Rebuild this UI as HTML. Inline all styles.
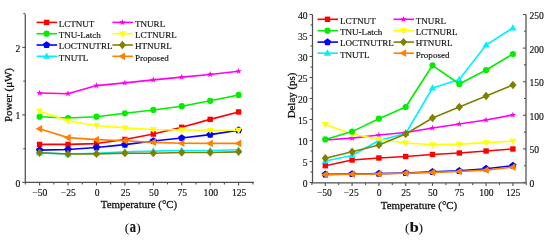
<!DOCTYPE html>
<html><head><meta charset="utf-8"><style>
html,body{margin:0;padding:0;background:#fff;}
svg{display:block;font-family:"Liberation Serif",serif;fill:#111;}
text{stroke:#111;stroke-width:0.15px;}
.cap{stroke-width:0.2px;}
.par{stroke-width:0.05px;}
.lab{stroke-width:0.28px;}
</style></head><body>
<svg width="550" height="241" viewBox="0 0 550 241">
<rect width="550" height="241" fill="#fff"/>
<path d="M25.3 14.2V182.4H254" fill="none" stroke="#505050" stroke-width="1.25"/>
<path d="M39.60 182.4v3.0" stroke="#505050" stroke-width="1.1"/>
<text x="39.80" y="196.40" font-size="9.6" text-anchor="middle">−50</text>
<path d="M68.03 182.4v3.0" stroke="#505050" stroke-width="1.1"/>
<text x="68.23" y="196.40" font-size="9.6" text-anchor="middle">−25</text>
<path d="M96.46 182.4v3.0" stroke="#505050" stroke-width="1.1"/>
<text x="97.06" y="196.40" font-size="9.6" text-anchor="middle">0</text>
<path d="M124.89 182.4v3.0" stroke="#505050" stroke-width="1.1"/>
<text x="125.49" y="196.40" font-size="9.6" text-anchor="middle">25</text>
<path d="M153.32 182.4v3.0" stroke="#505050" stroke-width="1.1"/>
<text x="153.92" y="196.40" font-size="9.6" text-anchor="middle">50</text>
<path d="M181.75 182.4v3.0" stroke="#505050" stroke-width="1.1"/>
<text x="182.35" y="196.40" font-size="9.6" text-anchor="middle">75</text>
<path d="M210.18 182.4v3.0" stroke="#505050" stroke-width="1.1"/>
<text x="210.78" y="196.40" font-size="9.6" text-anchor="middle">100</text>
<path d="M238.61 182.4v3.0" stroke="#505050" stroke-width="1.1"/>
<text x="239.21" y="196.40" font-size="9.6" text-anchor="middle">125</text>
<path d="M25.39 182.4v2.0" stroke="#505050" stroke-width="1.1"/>
<path d="M53.81 182.4v2.0" stroke="#505050" stroke-width="1.1"/>
<path d="M82.25 182.4v2.0" stroke="#505050" stroke-width="1.1"/>
<path d="M110.68 182.4v2.0" stroke="#505050" stroke-width="1.1"/>
<path d="M139.10 182.4v2.0" stroke="#505050" stroke-width="1.1"/>
<path d="M167.53 182.4v2.0" stroke="#505050" stroke-width="1.1"/>
<path d="M195.97 182.4v2.0" stroke="#505050" stroke-width="1.1"/>
<path d="M224.39 182.4v2.0" stroke="#505050" stroke-width="1.1"/>
<path d="M252.82 182.4v2.0" stroke="#505050" stroke-width="1.1"/>
<path d="M25.3 182.40h-3.0" stroke="#505050" stroke-width="1.1"/>
<text x="20.30" y="186.80" font-size="9.6" text-anchor="end">0</text>
<path d="M25.3 148.65h-2.0" stroke="#505050" stroke-width="1.1"/>
<path d="M25.3 114.90h-3.0" stroke="#505050" stroke-width="1.1"/>
<text x="20.30" y="119.30" font-size="9.6" text-anchor="end">1</text>
<path d="M25.3 81.15h-2.0" stroke="#505050" stroke-width="1.1"/>
<path d="M25.3 47.40h-3.0" stroke="#505050" stroke-width="1.1"/>
<text x="20.30" y="51.80" font-size="9.6" text-anchor="end">2</text>
<path d="M25.3 13.65h-2.0" stroke="#505050" stroke-width="1.1"/>
<polyline points="39.60,144.39 68.03,144.39 96.46,143.58 124.89,139.46 153.32,134.05 181.75,127.29 210.18,119.38 238.61,111.95" fill="none" stroke="#ff0000" stroke-width="1.6" stroke-linejoin="round"/>
<rect x="36.90" y="141.69" width="5.40" height="5.40" fill="#ff0000"/>
<rect x="65.33" y="141.69" width="5.40" height="5.40" fill="#ff0000"/>
<rect x="93.76" y="140.88" width="5.40" height="5.40" fill="#ff0000"/>
<rect x="122.19" y="136.76" width="5.40" height="5.40" fill="#ff0000"/>
<rect x="150.62" y="131.35" width="5.40" height="5.40" fill="#ff0000"/>
<rect x="179.05" y="124.59" width="5.40" height="5.40" fill="#ff0000"/>
<rect x="207.48" y="116.68" width="5.40" height="5.40" fill="#ff0000"/>
<rect x="235.91" y="109.25" width="5.40" height="5.40" fill="#ff0000"/>
<polyline points="39.60,116.68 68.03,118.03 96.46,116.68 124.89,113.30 153.32,109.92 181.75,106.20 210.18,100.79 238.61,94.91" fill="none" stroke="#00ee00" stroke-width="1.6" stroke-linejoin="round"/>
<circle cx="39.60" cy="116.68" r="3.10" fill="#00ee00"/>
<circle cx="68.03" cy="118.03" r="3.10" fill="#00ee00"/>
<circle cx="96.46" cy="116.68" r="3.10" fill="#00ee00"/>
<circle cx="124.89" cy="113.30" r="3.10" fill="#00ee00"/>
<circle cx="153.32" cy="109.92" r="3.10" fill="#00ee00"/>
<circle cx="181.75" cy="106.20" r="3.10" fill="#00ee00"/>
<circle cx="210.18" cy="100.79" r="3.10" fill="#00ee00"/>
<circle cx="238.61" cy="94.91" r="3.10" fill="#00ee00"/>
<polyline points="39.60,150.14 68.03,149.46 96.46,147.44 124.89,144.66 153.32,141.01 181.75,137.97 210.18,134.59 238.61,130.20" fill="none" stroke="#0000ff" stroke-width="1.6" stroke-linejoin="round"/>
<polygon points="39.60,146.31 43.25,148.96 41.85,153.24 37.35,153.24 35.95,148.96" fill="#0000ff"/>
<polygon points="68.03,145.63 71.68,148.28 70.28,152.57 65.78,152.57 64.38,148.28" fill="#0000ff"/>
<polygon points="96.46,143.60 100.11,146.25 98.71,150.54 94.21,150.54 92.81,146.25" fill="#0000ff"/>
<polygon points="124.89,140.83 128.54,143.48 127.14,147.77 122.64,147.77 121.24,143.48" fill="#0000ff"/>
<polygon points="153.32,137.18 156.97,139.83 155.57,144.12 151.07,144.12 149.67,139.83" fill="#0000ff"/>
<polygon points="181.75,134.14 185.40,136.79 184.00,141.07 179.50,141.07 178.10,136.79" fill="#0000ff"/>
<polygon points="210.18,130.76 213.83,133.41 212.43,137.69 207.93,137.69 206.53,133.41" fill="#0000ff"/>
<polygon points="238.61,126.36 242.26,129.01 240.86,133.30 236.36,133.30 234.96,129.01" fill="#0000ff"/>
<polyline points="39.60,152.84 68.03,153.99 96.46,153.18 124.89,151.83 153.32,151.15 181.75,150.48 210.18,150.48 238.61,149.80" fill="none" stroke="#00f0ff" stroke-width="1.6" stroke-linejoin="round"/>
<polygon points="39.60,149.01 43.24,155.34 35.96,155.34" fill="#00f0ff"/>
<polygon points="68.03,150.16 71.67,156.49 64.39,156.49" fill="#00f0ff"/>
<polygon points="96.46,149.35 100.10,155.67 92.82,155.67" fill="#00f0ff"/>
<polygon points="124.89,148.00 128.53,154.32 121.25,154.32" fill="#00f0ff"/>
<polygon points="153.32,147.32 156.96,153.65 149.68,153.65" fill="#00f0ff"/>
<polygon points="181.75,146.64 185.39,152.97 178.11,152.97" fill="#00f0ff"/>
<polygon points="210.18,146.64 213.82,152.97 206.54,152.97" fill="#00f0ff"/>
<polygon points="238.61,145.97 242.25,152.29 234.97,152.29" fill="#00f0ff"/>
<polyline points="39.60,93.02 68.03,93.69 96.46,85.58 124.89,82.88 153.32,79.84 181.75,77.13 210.18,74.43 238.61,71.25" fill="none" stroke="#ff00f0" stroke-width="1.6" stroke-linejoin="round"/>
<polygon points="39.60,89.64 40.39,91.93 42.81,91.98 40.88,93.44 41.58,95.75 39.60,94.37 37.62,95.75 38.32,93.44 36.39,91.98 38.81,91.93" fill="#ff00f0"/>
<polygon points="68.03,90.32 68.82,92.60 71.24,92.65 69.31,94.11 70.01,96.42 68.03,95.04 66.05,96.42 66.75,94.11 64.82,92.65 67.24,92.60" fill="#ff00f0"/>
<polygon points="96.46,82.21 97.25,84.49 99.67,84.54 97.74,86.00 98.44,88.31 96.46,86.93 94.48,88.31 95.18,86.00 93.25,84.54 95.67,84.49" fill="#ff00f0"/>
<polygon points="124.89,79.50 125.68,81.79 128.10,81.84 126.17,83.30 126.87,85.61 124.89,84.23 122.91,85.61 123.61,83.30 121.68,81.84 124.10,81.79" fill="#ff00f0"/>
<polygon points="153.32,76.46 154.11,78.74 156.53,78.79 154.60,80.25 155.30,82.57 153.32,81.19 151.34,82.57 152.04,80.25 150.11,78.79 152.53,78.74" fill="#ff00f0"/>
<polygon points="181.75,73.76 182.54,76.04 184.96,76.09 183.03,77.55 183.73,79.86 181.75,78.48 179.77,79.86 180.47,77.55 178.54,76.09 180.96,76.04" fill="#ff00f0"/>
<polygon points="210.18,71.05 210.97,73.34 213.39,73.39 211.46,74.85 212.16,77.16 210.18,75.78 208.20,77.16 208.90,74.85 206.97,73.39 209.39,73.34" fill="#ff00f0"/>
<polygon points="238.61,67.88 239.40,70.16 241.82,70.21 239.89,71.67 240.59,73.98 238.61,72.60 236.63,73.98 237.33,71.67 235.40,70.21 237.82,70.16" fill="#ff00f0"/>
<polyline points="39.60,110.93 68.03,121.07 96.46,125.47 124.89,127.83 153.32,129.52 181.75,129.86 210.18,130.20 238.61,130.20" fill="none" stroke="#ffff00" stroke-width="1.6" stroke-linejoin="round"/>
<polygon points="39.60,114.71 43.19,108.48 36.01,108.48" fill="#ffff00"/>
<polygon points="68.03,124.85 71.62,118.62 64.44,118.62" fill="#ffff00"/>
<polygon points="96.46,129.25 100.05,123.01 92.87,123.01" fill="#ffff00"/>
<polygon points="124.89,131.61 128.48,125.38 121.30,125.38" fill="#ffff00"/>
<polygon points="153.32,133.30 156.91,127.06 149.73,127.06" fill="#ffff00"/>
<polygon points="181.75,133.64 185.34,127.40 178.16,127.40" fill="#ffff00"/>
<polygon points="210.18,133.98 213.77,127.74 206.59,127.74" fill="#ffff00"/>
<polygon points="238.61,133.98 242.20,127.74 235.02,127.74" fill="#ffff00"/>
<polyline points="39.60,152.71 68.03,153.99 96.46,153.86 124.89,153.18 153.32,153.18 181.75,152.51 210.18,152.51 238.61,151.83" fill="none" stroke="#808000" stroke-width="1.6" stroke-linejoin="round"/>
<polygon points="39.60,148.52 43.25,152.71 39.60,156.89 35.95,152.71" fill="#808000"/>
<polygon points="68.03,149.81 71.67,153.99 68.03,158.18 64.39,153.99" fill="#808000"/>
<polygon points="96.46,149.67 100.11,153.86 96.46,158.04 92.82,153.86" fill="#808000"/>
<polygon points="124.89,149.00 128.53,153.18 124.89,157.37 121.24,153.18" fill="#808000"/>
<polygon points="153.32,149.00 156.97,153.18 153.32,157.37 149.67,153.18" fill="#808000"/>
<polygon points="181.75,148.32 185.40,152.51 181.75,156.69 178.10,152.51" fill="#808000"/>
<polygon points="210.18,148.32 213.82,152.51 210.18,156.69 206.53,152.51" fill="#808000"/>
<polygon points="238.61,147.65 242.25,151.83 238.61,156.02 234.96,151.83" fill="#808000"/>
<polyline points="39.60,128.85 68.03,137.63 96.46,139.66 124.89,140.68 153.32,142.37 181.75,143.24 210.18,143.38 238.61,143.38" fill="none" stroke="#ff8000" stroke-width="1.6" stroke-linejoin="round"/>
<polygon points="35.55,128.85 42.23,125.00 42.23,132.69" fill="#ff8000"/>
<polygon points="63.98,137.63 70.66,133.79 70.66,141.48" fill="#ff8000"/>
<polygon points="92.41,139.66 99.09,135.81 99.09,143.51" fill="#ff8000"/>
<polygon points="120.84,140.68 127.52,136.83 127.52,144.52" fill="#ff8000"/>
<polygon points="149.27,142.37 155.95,138.52 155.95,146.21" fill="#ff8000"/>
<polygon points="177.70,143.24 184.38,139.40 184.38,147.09" fill="#ff8000"/>
<polygon points="206.13,143.38 212.81,139.53 212.81,147.23" fill="#ff8000"/>
<polygon points="234.56,143.38 241.24,139.53 241.24,147.23" fill="#ff8000"/>
<text transform="translate(12 95) rotate(-90)" font-size="10.9" text-anchor="middle" class="lab">Power (μW)</text>
<text x="139.0" y="208.1" font-size="10.9" text-anchor="middle" class="lab">Temperature (°C)</text>
<path d="M36.6 22.4h20.5" stroke="#ff0000" stroke-width="1.6"/>
<rect x="43.90" y="19.70" width="5.40" height="5.40" fill="#ff0000"/>
<text x="58.7" y="26.70" font-size="9.05">LCTNUT</text>
<path d="M36.6 33.7h20.5" stroke="#00ee00" stroke-width="1.6"/>
<circle cx="46.60" cy="33.70" r="3.10" fill="#00ee00"/>
<text x="58.7" y="38.00" font-size="9.05">TNU-Latch</text>
<path d="M36.6 45.0h20.5" stroke="#0000ff" stroke-width="1.6"/>
<polygon points="46.60,41.17 50.25,43.82 48.85,48.10 44.35,48.10 42.95,43.82" fill="#0000ff"/>
<text x="58.7" y="49.30" font-size="9.05">LOCTNUTRL</text>
<path d="M36.6 56.3h20.5" stroke="#00f0ff" stroke-width="1.6"/>
<polygon points="46.60,52.47 50.24,58.79 42.96,58.79" fill="#00f0ff"/>
<text x="58.7" y="60.60" font-size="9.05">TNUTL</text>
<path d="M112.4 22.4h20.5" stroke="#ff00f0" stroke-width="1.6"/>
<polygon points="122.40,19.02 123.19,21.31 125.61,21.36 123.68,22.82 124.38,25.13 122.40,23.75 120.42,25.13 121.12,22.82 119.19,21.36 121.61,21.31" fill="#ff00f0"/>
<text x="135.0" y="26.70" font-size="9.05">TNURL</text>
<path d="M112.4 33.7h20.5" stroke="#ffff00" stroke-width="1.6"/>
<polygon points="122.40,37.48 125.99,31.24 118.81,31.24" fill="#ffff00"/>
<text x="135.0" y="38.00" font-size="9.05">LCTNURL</text>
<path d="M112.4 45.0h20.5" stroke="#808000" stroke-width="1.6"/>
<polygon points="122.40,40.81 126.05,45.00 122.40,49.19 118.76,45.00" fill="#808000"/>
<text x="135.0" y="49.30" font-size="9.05">HTNURL</text>
<path d="M112.4 56.3h20.5" stroke="#ff8000" stroke-width="1.6"/>
<polygon points="118.35,56.30 125.03,52.45 125.03,60.15" fill="#ff8000"/>
<text x="135.0" y="60.60" font-size="9.05">Proposed</text>
<text x="129.30" y="232.3" font-size="13.5" text-anchor="end" class="par">(</text>
<text transform="translate(132.80 232.3) scale(0.92 1.17)" font-size="13.5" font-weight="bold" text-anchor="middle" class="cap">a</text>
<text x="136.30" y="232.3" font-size="13.5" class="par">)</text>
<path d="M312.5 14.5V182.9H526" fill="none" stroke="#505050" stroke-width="1.25"/>
<path d="M325.30 182.9v3.0" stroke="#505050" stroke-width="1.1"/>
<text x="324.40" y="196.40" font-size="9.6" text-anchor="middle">−50</text>
<path d="M352.10 182.9v3.0" stroke="#505050" stroke-width="1.1"/>
<text x="351.20" y="196.40" font-size="9.6" text-anchor="middle">−25</text>
<path d="M378.90 182.9v3.0" stroke="#505050" stroke-width="1.1"/>
<text x="379.20" y="196.40" font-size="9.6" text-anchor="middle">0</text>
<path d="M405.70 182.9v3.0" stroke="#505050" stroke-width="1.1"/>
<text x="406.00" y="196.40" font-size="9.6" text-anchor="middle">25</text>
<path d="M432.50 182.9v3.0" stroke="#505050" stroke-width="1.1"/>
<text x="432.80" y="196.40" font-size="9.6" text-anchor="middle">50</text>
<path d="M459.30 182.9v3.0" stroke="#505050" stroke-width="1.1"/>
<text x="459.60" y="196.40" font-size="9.6" text-anchor="middle">75</text>
<path d="M486.10 182.9v3.0" stroke="#505050" stroke-width="1.1"/>
<text x="486.40" y="196.40" font-size="9.6" text-anchor="middle">100</text>
<path d="M512.90 182.9v3.0" stroke="#505050" stroke-width="1.1"/>
<text x="513.20" y="196.40" font-size="9.6" text-anchor="middle">125</text>
<path d="M311.90 182.9v2.0" stroke="#505050" stroke-width="1.1"/>
<path d="M338.70 182.9v2.0" stroke="#505050" stroke-width="1.1"/>
<path d="M365.50 182.9v2.0" stroke="#505050" stroke-width="1.1"/>
<path d="M392.30 182.9v2.0" stroke="#505050" stroke-width="1.1"/>
<path d="M419.10 182.9v2.0" stroke="#505050" stroke-width="1.1"/>
<path d="M445.90 182.9v2.0" stroke="#505050" stroke-width="1.1"/>
<path d="M472.70 182.9v2.0" stroke="#505050" stroke-width="1.1"/>
<path d="M499.50 182.9v2.0" stroke="#505050" stroke-width="1.1"/>
<path d="M526.30 182.9v2.0" stroke="#505050" stroke-width="1.1"/>
<path d="M312.5 182.50h-3.0" stroke="#505050" stroke-width="1.1"/>
<text x="307.50" y="186.90" font-size="9.6" text-anchor="end">0</text>
<path d="M312.5 172.00h-2.0" stroke="#505050" stroke-width="1.1"/>
<path d="M312.5 161.50h-3.0" stroke="#505050" stroke-width="1.1"/>
<text x="307.50" y="165.90" font-size="9.6" text-anchor="end">5</text>
<path d="M312.5 151.00h-2.0" stroke="#505050" stroke-width="1.1"/>
<path d="M312.5 140.50h-3.0" stroke="#505050" stroke-width="1.1"/>
<text x="307.50" y="144.90" font-size="9.6" text-anchor="end">10</text>
<path d="M312.5 130.00h-2.0" stroke="#505050" stroke-width="1.1"/>
<path d="M312.5 119.50h-3.0" stroke="#505050" stroke-width="1.1"/>
<text x="307.50" y="123.90" font-size="9.6" text-anchor="end">15</text>
<path d="M312.5 109.00h-2.0" stroke="#505050" stroke-width="1.1"/>
<path d="M312.5 98.50h-3.0" stroke="#505050" stroke-width="1.1"/>
<text x="307.50" y="102.90" font-size="9.6" text-anchor="end">20</text>
<path d="M312.5 88.00h-2.0" stroke="#505050" stroke-width="1.1"/>
<path d="M312.5 77.50h-3.0" stroke="#505050" stroke-width="1.1"/>
<text x="307.50" y="81.90" font-size="9.6" text-anchor="end">25</text>
<path d="M312.5 67.00h-2.0" stroke="#505050" stroke-width="1.1"/>
<path d="M312.5 56.50h-3.0" stroke="#505050" stroke-width="1.1"/>
<text x="307.50" y="60.90" font-size="9.6" text-anchor="end">30</text>
<path d="M312.5 46.00h-2.0" stroke="#505050" stroke-width="1.1"/>
<path d="M312.5 35.50h-3.0" stroke="#505050" stroke-width="1.1"/>
<text x="307.50" y="39.90" font-size="9.6" text-anchor="end">35</text>
<path d="M312.5 25.00h-2.0" stroke="#505050" stroke-width="1.1"/>
<path d="M312.5 14.50h-3.0" stroke="#505050" stroke-width="1.1"/>
<text x="307.50" y="18.90" font-size="9.6" text-anchor="end">40</text>
<path d="M526 14.5V182.9" fill="none" stroke="#555" stroke-width="1.3"/>
<path d="M526 182.50h-3.0" stroke="#555" stroke-width="1.1"/>
<text x="529.5" y="186.90" font-size="9.6">0</text>
<path d="M526 165.70h-2.0" stroke="#555" stroke-width="1.1"/>
<path d="M526 148.90h-3.0" stroke="#555" stroke-width="1.1"/>
<text x="529.5" y="153.30" font-size="9.6">50</text>
<path d="M526 132.10h-2.0" stroke="#555" stroke-width="1.1"/>
<path d="M526 115.30h-3.0" stroke="#555" stroke-width="1.1"/>
<text x="529.5" y="119.70" font-size="9.6">100</text>
<path d="M526 98.50h-2.0" stroke="#555" stroke-width="1.1"/>
<path d="M526 81.70h-3.0" stroke="#555" stroke-width="1.1"/>
<text x="529.5" y="86.10" font-size="9.6">150</text>
<path d="M526 64.90h-2.0" stroke="#555" stroke-width="1.1"/>
<path d="M526 48.10h-3.0" stroke="#555" stroke-width="1.1"/>
<text x="529.5" y="52.50" font-size="9.6">200</text>
<path d="M526 31.30h-2.0" stroke="#555" stroke-width="1.1"/>
<path d="M526 14.50h-3.0" stroke="#555" stroke-width="1.1"/>
<text x="529.5" y="18.90" font-size="9.6">250</text>
<polyline points="325.30,165.70 352.10,160.00 378.90,158.00 405.70,156.50 432.50,154.50 459.30,153.00 486.10,151.00 512.90,149.00" fill="none" stroke="#ff0000" stroke-width="1.6" stroke-linejoin="round"/>
<rect x="322.60" y="163.00" width="5.40" height="5.40" fill="#ff0000"/>
<rect x="349.40" y="157.30" width="5.40" height="5.40" fill="#ff0000"/>
<rect x="376.20" y="155.30" width="5.40" height="5.40" fill="#ff0000"/>
<rect x="403.00" y="153.80" width="5.40" height="5.40" fill="#ff0000"/>
<rect x="429.80" y="151.80" width="5.40" height="5.40" fill="#ff0000"/>
<rect x="456.60" y="150.30" width="5.40" height="5.40" fill="#ff0000"/>
<rect x="483.40" y="148.30" width="5.40" height="5.40" fill="#ff0000"/>
<rect x="510.20" y="146.30" width="5.40" height="5.40" fill="#ff0000"/>
<polyline points="325.30,174.40 352.10,174.00 378.90,173.60 405.70,173.00 432.50,171.90 459.30,170.90 486.10,168.70 512.90,165.60" fill="none" stroke="#0000ff" stroke-width="1.6" stroke-linejoin="round"/>
<polygon points="325.30,170.57 328.95,173.22 327.55,177.50 323.05,177.50 321.65,173.22" fill="#0000ff"/>
<polygon points="352.10,170.17 355.75,172.82 354.35,177.10 349.85,177.10 348.45,172.82" fill="#0000ff"/>
<polygon points="378.90,169.77 382.55,172.42 381.15,176.70 376.65,176.70 375.25,172.42" fill="#0000ff"/>
<polygon points="405.70,169.17 409.35,171.82 407.95,176.10 403.45,176.10 402.05,171.82" fill="#0000ff"/>
<polygon points="432.50,168.07 436.15,170.72 434.75,175.00 430.25,175.00 428.85,170.72" fill="#0000ff"/>
<polygon points="459.30,167.07 462.95,169.72 461.55,174.00 457.05,174.00 455.65,169.72" fill="#0000ff"/>
<polygon points="486.10,164.87 489.75,167.52 488.35,171.80 483.85,171.80 482.45,167.52" fill="#0000ff"/>
<polygon points="512.90,161.77 516.55,164.42 515.15,168.70 510.65,168.70 509.25,164.42" fill="#0000ff"/>
<polyline points="325.30,161.00 352.10,155.50 378.90,140.50 405.70,133.50 432.50,88.00 459.30,79.50 486.10,45.00 512.90,28.00" fill="none" stroke="#00f0ff" stroke-width="1.6" stroke-linejoin="round"/>
<polygon points="325.30,157.17 328.94,163.49 321.66,163.49" fill="#00f0ff"/>
<polygon points="352.10,151.67 355.74,157.99 348.46,157.99" fill="#00f0ff"/>
<polygon points="378.90,136.67 382.54,142.99 375.26,142.99" fill="#00f0ff"/>
<polygon points="405.70,129.67 409.34,135.99 402.06,135.99" fill="#00f0ff"/>
<polygon points="432.50,84.17 436.14,90.49 428.86,90.49" fill="#00f0ff"/>
<polygon points="459.30,75.67 462.94,81.99 455.66,81.99" fill="#00f0ff"/>
<polygon points="486.10,41.17 489.74,47.49 482.46,47.49" fill="#00f0ff"/>
<polygon points="512.90,24.17 516.54,30.49 509.26,30.49" fill="#00f0ff"/>
<polyline points="325.30,140.00 352.10,138.10 378.90,135.00 405.70,132.50 432.50,128.00 459.30,124.00 486.10,120.00 512.90,115.00" fill="none" stroke="#ff00f0" stroke-width="1.6" stroke-linejoin="round"/>
<polygon points="325.30,136.62 326.09,138.91 328.51,138.96 326.58,140.42 327.28,142.73 325.30,141.35 323.32,142.73 324.02,140.42 322.09,138.96 324.51,138.91" fill="#ff00f0"/>
<polygon points="352.10,134.72 352.89,137.01 355.31,137.06 353.38,138.52 354.08,140.83 352.10,139.45 350.12,140.83 350.82,138.52 348.89,137.06 351.31,137.01" fill="#ff00f0"/>
<polygon points="378.90,131.62 379.69,133.91 382.11,133.96 380.18,135.42 380.88,137.73 378.90,136.35 376.92,137.73 377.62,135.42 375.69,133.96 378.11,133.91" fill="#ff00f0"/>
<polygon points="405.70,129.12 406.49,131.41 408.91,131.46 406.98,132.92 407.68,135.23 405.70,133.85 403.72,135.23 404.42,132.92 402.49,131.46 404.91,131.41" fill="#ff00f0"/>
<polygon points="432.50,124.62 433.29,126.91 435.71,126.96 433.78,128.42 434.48,130.73 432.50,129.35 430.52,130.73 431.22,128.42 429.29,126.96 431.71,126.91" fill="#ff00f0"/>
<polygon points="459.30,120.62 460.09,122.91 462.51,122.96 460.58,124.42 461.28,126.73 459.30,125.35 457.32,126.73 458.02,124.42 456.09,122.96 458.51,122.91" fill="#ff00f0"/>
<polygon points="486.10,116.62 486.89,118.91 489.31,118.96 487.38,120.42 488.08,122.73 486.10,121.35 484.12,122.73 484.82,120.42 482.89,118.96 485.31,118.91" fill="#ff00f0"/>
<polygon points="512.90,111.62 513.69,113.91 516.11,113.96 514.18,115.42 514.88,117.73 512.90,116.35 510.92,117.73 511.62,115.42 509.69,113.96 512.11,113.91" fill="#ff00f0"/>
<polyline points="325.30,124.40 352.10,134.00 378.90,139.30 405.70,143.00 432.50,144.60 459.30,144.10 486.10,142.60 512.90,141.20" fill="none" stroke="#ffff00" stroke-width="1.6" stroke-linejoin="round"/>
<polygon points="325.30,128.18 328.89,121.94 321.71,121.94" fill="#ffff00"/>
<polygon points="352.10,137.78 355.69,131.54 348.51,131.54" fill="#ffff00"/>
<polygon points="378.90,143.08 382.49,136.84 375.31,136.84" fill="#ffff00"/>
<polygon points="405.70,146.78 409.29,140.54 402.11,140.54" fill="#ffff00"/>
<polygon points="432.50,148.38 436.09,142.14 428.91,142.14" fill="#ffff00"/>
<polygon points="459.30,147.88 462.89,141.64 455.71,141.64" fill="#ffff00"/>
<polygon points="486.10,146.38 489.69,140.14 482.51,140.14" fill="#ffff00"/>
<polygon points="512.90,144.98 516.49,138.74 509.31,138.74" fill="#ffff00"/>
<polyline points="325.30,158.20 352.10,151.70 378.90,145.00 405.70,134.00 432.50,118.00 459.30,107.00 486.10,96.00 512.90,85.00" fill="none" stroke="#808000" stroke-width="1.6" stroke-linejoin="round"/>
<polygon points="325.30,154.01 328.94,158.20 325.30,162.38 321.66,158.20" fill="#808000"/>
<polygon points="352.10,147.51 355.75,151.70 352.10,155.88 348.46,151.70" fill="#808000"/>
<polygon points="378.90,140.81 382.55,145.00 378.90,149.19 375.26,145.00" fill="#808000"/>
<polygon points="405.70,129.81 409.35,134.00 405.70,138.19 402.06,134.00" fill="#808000"/>
<polygon points="432.50,113.81 436.14,118.00 432.50,122.19 428.86,118.00" fill="#808000"/>
<polygon points="459.30,102.81 462.94,107.00 459.30,111.19 455.66,107.00" fill="#808000"/>
<polygon points="486.10,91.81 489.75,96.00 486.10,100.19 482.46,96.00" fill="#808000"/>
<polygon points="512.90,80.81 516.54,85.00 512.90,89.19 509.25,85.00" fill="#808000"/>
<polyline points="325.30,174.60 352.10,174.20 378.90,173.90 405.70,173.20 432.50,172.40 459.30,171.50 486.10,170.10 512.90,167.20" fill="none" stroke="#ff8000" stroke-width="1.6" stroke-linejoin="round"/>
<polygon points="321.25,174.60 327.93,170.75 327.93,178.45" fill="#ff8000"/>
<polygon points="348.05,174.20 354.73,170.35 354.73,178.05" fill="#ff8000"/>
<polygon points="374.85,173.90 381.53,170.05 381.53,177.75" fill="#ff8000"/>
<polygon points="401.65,173.20 408.33,169.35 408.33,177.05" fill="#ff8000"/>
<polygon points="428.45,172.40 435.13,168.55 435.13,176.25" fill="#ff8000"/>
<polygon points="455.25,171.50 461.93,167.65 461.93,175.35" fill="#ff8000"/>
<polygon points="482.05,170.10 488.73,166.25 488.73,173.95" fill="#ff8000"/>
<polygon points="508.85,167.20 515.53,163.35 515.53,171.05" fill="#ff8000"/>
<polyline points="325.30,139.40 352.10,131.60 378.90,118.70 405.70,107.00 432.50,65.30 459.30,84.00 486.10,70.00 512.90,54.00" fill="none" stroke="#00ee00" stroke-width="1.6" stroke-linejoin="round"/>
<circle cx="325.30" cy="139.40" r="3.10" fill="#00ee00"/>
<circle cx="352.10" cy="131.60" r="3.10" fill="#00ee00"/>
<circle cx="378.90" cy="118.70" r="3.10" fill="#00ee00"/>
<circle cx="405.70" cy="107.00" r="3.10" fill="#00ee00"/>
<circle cx="432.50" cy="65.30" r="3.10" fill="#00ee00"/>
<circle cx="459.30" cy="84.00" r="3.10" fill="#00ee00"/>
<circle cx="486.10" cy="70.00" r="3.10" fill="#00ee00"/>
<circle cx="512.90" cy="54.00" r="3.10" fill="#00ee00"/>
<text transform="translate(294.8 95.5) rotate(-90)" font-size="10.9" text-anchor="middle" class="lab">Delay (ps)</text>
<text x="419.0" y="208.9" font-size="10.9" text-anchor="middle" class="lab">Temperature (°C)</text>
<path d="M317.5 19.3h20.5" stroke="#ff0000" stroke-width="1.6"/>
<rect x="324.80" y="16.60" width="5.40" height="5.40" fill="#ff0000"/>
<text x="340.0" y="23.60" font-size="9.05">LCTNUT</text>
<path d="M317.5 30.7h20.5" stroke="#00ee00" stroke-width="1.6"/>
<circle cx="327.50" cy="30.70" r="3.10" fill="#00ee00"/>
<text x="340.0" y="35.00" font-size="9.05">TNU-Latch</text>
<path d="M317.5 42.1h20.5" stroke="#0000ff" stroke-width="1.6"/>
<polygon points="327.50,38.27 331.15,40.92 329.75,45.20 325.25,45.20 323.85,40.92" fill="#0000ff"/>
<text x="340.0" y="46.40" font-size="9.05">LOCTNUTRL</text>
<path d="M317.5 53.2h20.5" stroke="#00f0ff" stroke-width="1.6"/>
<polygon points="327.50,49.37 331.14,55.69 323.86,55.69" fill="#00f0ff"/>
<text x="340.0" y="57.50" font-size="9.05">TNUTL</text>
<path d="M393.5 19.3h20.5" stroke="#ff00f0" stroke-width="1.6"/>
<polygon points="403.50,15.93 404.29,18.21 406.71,18.26 404.78,19.72 405.48,22.03 403.50,20.65 401.52,22.03 402.22,19.72 400.29,18.26 402.71,18.21" fill="#ff00f0"/>
<text x="415.8" y="23.60" font-size="9.05">TNURL</text>
<path d="M393.5 30.7h20.5" stroke="#ffff00" stroke-width="1.6"/>
<polygon points="403.50,34.48 407.09,28.24 399.91,28.24" fill="#ffff00"/>
<text x="415.8" y="35.00" font-size="9.05">LCTNURL</text>
<path d="M393.5 42.1h20.5" stroke="#808000" stroke-width="1.6"/>
<polygon points="403.50,37.91 407.14,42.10 403.50,46.29 399.86,42.10" fill="#808000"/>
<text x="415.8" y="46.40" font-size="9.05">HTNURL</text>
<path d="M393.5 53.2h20.5" stroke="#ff8000" stroke-width="1.6"/>
<polygon points="399.45,53.20 406.13,49.35 406.13,57.05" fill="#ff8000"/>
<text x="415.8" y="57.50" font-size="9.05">Proposed</text>
<text x="409.50" y="232.3" font-size="13.5" text-anchor="end" class="par">(</text>
<text transform="translate(414.30 232.3) scale(1.2 1.07)" font-size="13.5" font-weight="bold" text-anchor="middle" class="cap">b</text>
<text x="418.60" y="232.3" font-size="13.5" class="par">)</text>
</svg></body></html>
